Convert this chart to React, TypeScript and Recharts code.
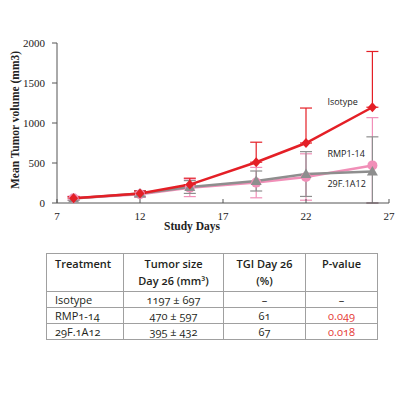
import { LineChart, Line, XAxis, YAxis, ErrorBar } from 'recharts'

const days = [8, 12, 15, 19, 22, 26]
const isotype = [60, 120, 230, 510, 750, 1197]
const isotypeErr = [20, 30, 80, 250, 437, 697]
const rmp = [60, 110, 190, 255, 325, 470]
const rmpErr = [25, 40, 110, 190, 290, 597]
const f29 = [55, 120, 200, 275, 362, 395]
const f29Err = [20, 35, 80, 125, 280, 432]

const xTicks = [7, 12, 17, 22, 27]
const yTicks = [0, 500, 1000, 1500, 2000]

const tableHead = ['Treatment', 'Tumor size', 'TGI Day 26', 'P-value']
const tableHead2 = ['', 'Day 26 (mm³)', '(%)', '']
const treatments = ['Isotype', 'RMP1-14', '29F.1A12']
const sizes = ['1197 ± 697', '470 ± 597', '395 ± 432']
const tgi = ['–', '61', '67']
const pValues = ['–', '0.049', '0.018']

const RED = '#e41f26'
const PINK = '#f18fb8'
const GREY = '#8e8e8e'

const data = days.map((d, i) => ({
  day: d,
  iso: isotype[i],
  isoErr: [0, isotypeErr[i]],
  rmp: rmp[i],
  rmpErr: [Math.min(rmpErr[i], rmp[i]), rmpErr[i]],
  f29: f29[i],
  f29Err: [Math.min(f29Err[i], f29[i]), f29Err[i]],
}))

const serif = '"Liberation Serif", "Times New Roman", serif'
const sans = '"Open Sans", "Noto Sans", sans-serif'

const Diamond = (p: any) => (
  <path
    key={`d-${p.index}`}
    d={`M${p.cx},${p.cy - 5} L${p.cx + 4.5},${p.cy} L${p.cx},${p.cy + 5} L${p.cx - 4.5},${p.cy} Z`}
    fill={RED}
  />
)
const Circle = (p: any) => <circle key={`c-${p.index}`} cx={p.cx} cy={p.cy} r={5} fill={PINK} />
const Triangle = (p: any) => (
  <path
    key={`t-${p.index}`}
    d={`M${p.cx},${p.cy - 5.5} L${p.cx + 5.5},${p.cy + 4} L${p.cx - 5.5},${p.cy + 4} Z`}
    fill={GREY}
  />
)

// series name written next to the last point
const lastLabel = (text: string, dy: number) => (p: any) =>
  p.index === days.length - 1 ? (
    <text key={`l-${text}`} x={p.x - 45} y={p.y + dy} fontFamily={sans} fontSize={9} fill="#222">
      {text}
    </text>
  ) : (
    <g key={`l-${text}-${p.index}`} />
  )

const cell = (align: 'left' | 'center', color = '#231f20') => ({
  border: '1px solid #a0a0a0',
  padding: align === 'left' ? '0 0 0 8px' : 0,
  textAlign: align,
  color,
  height: 15,
  lineHeight: '15px',
})

export default function App() {
  return (
    <div style={{ position: 'absolute', left: 0, top: 0, width: 400, height: 400, background: '#fff' }}>
      <LineChart width={400} height={240} data={data} margin={{ top: 43, right: 11, left: 0, bottom: 7 }}>
        <XAxis
          dataKey="day"
          type="number"
          domain={[7, 27]}
          ticks={xTicks}
          height={30}
          tickSize={-4}
          tickMargin={13}
          axisLine={{ stroke: '#555' }}
          tickLine={{ stroke: '#555' }}
          tick={{ fill: '#222', fontSize: 11, fontFamily: serif }}
          label={{
            content: ({ viewBox }: any) => (
              <text
                x={viewBox.x + viewBox.width / 2 - 31}
                y={viewBox.y + 27}
                textAnchor="middle"
                fontFamily={serif}
                fontWeight="bold"
                fontSize={11.5}
                fill="#222"
              >
                Study Days
              </text>
            ),
          }}
        />
        <YAxis
          domain={[0, 2000]}
          ticks={yTicks}
          width={57}
          tickSize={5}
          tickMargin={7}
          axisLine={{ stroke: '#555' }}
          tickLine={{ stroke: '#555' }}
          tick={{ fill: '#222', fontSize: 11, fontFamily: serif }}
          label={{
            content: ({ viewBox }: any) => {
              const x = viewBox.x + 19
              const y = viewBox.y + viewBox.height / 2 - 3
              return (
                <text
                  x={x}
                  y={y}
                  transform={`rotate(-90 ${x} ${y})`}
                  textAnchor="middle"
                  fontFamily={serif}
                  fontWeight="bold"
                  fontSize={11.5}
                  fill="#222"
                >
                  Mean Tumor volume (mm3)
                </text>
              )
            },
          }}
        />
        <Line
          dataKey="rmp"
          stroke={PINK}
          strokeWidth={2.5}
          dot={Circle}
          activeDot={false}
          isAnimationActive={false}
          label={lastLabel('RMP1-14', -8)}
        >
          <ErrorBar dataKey="rmpErr" direction="y" width={6} stroke={PINK} strokeWidth={1.2} />
        </Line>
        <Line
          dataKey="f29"
          stroke={GREY}
          strokeWidth={2.5}
          dot={Triangle}
          activeDot={false}
          isAnimationActive={false}
          label={lastLabel('29F.1A12', 16)}
        >
          <ErrorBar dataKey="f29Err" direction="y" width={6} stroke={GREY} strokeWidth={1.2} />
        </Line>
        <Line
          dataKey="iso"
          stroke={RED}
          strokeWidth={2.5}
          dot={Diamond}
          activeDot={false}
          isAnimationActive={false}
          label={lastLabel('Isotype', -2)}
        >
          <ErrorBar dataKey="isoErr" direction="y" width={6} stroke={RED} strokeWidth={1.2} />
        </Line>
      </LineChart>

      <table
        style={{
          position: 'absolute',
          left: 46,
          top: 253,
          borderCollapse: 'collapse',
          fontFamily: sans,
          fontSize: 11,
          fontVariantNumeric: 'oldstyle-nums',
          tableLayout: 'fixed',
          width: 331,
        }}
      >
        <colgroup>
          <col style={{ width: 77 }} />
          <col style={{ width: 100 }} />
          <col style={{ width: 82 }} />
          <col style={{ width: 72 }} />
        </colgroup>
        <thead>
          <tr>
            {tableHead.map((h, i) => (
              <th
                key={h}
                style={{
                  ...cell(i === 0 ? 'left' : 'center'),
                  height: 36,
                  lineHeight: '17px',
                  verticalAlign: 'top',
                  paddingTop: 1,
                  fontWeight: 600,
                }}
              >
                {h}
                {tableHead2[i] && <br />}
                {tableHead2[i]}
              </th>
            ))}
          </tr>
        </thead>
        <tbody>
          {treatments.map((t, i) => (
            <tr key={t}>
              <td style={cell('left')}>{t}</td>
              <td style={cell('center')}>{sizes[i]}</td>
              <td style={cell('center')}>{tgi[i]}</td>
              <td style={cell('center', i === 0 ? '#231f20' : '#e53935')}>{pValues[i]}</td>
            </tr>
          ))}
        </tbody>
      </table>
    </div>
  )
}
